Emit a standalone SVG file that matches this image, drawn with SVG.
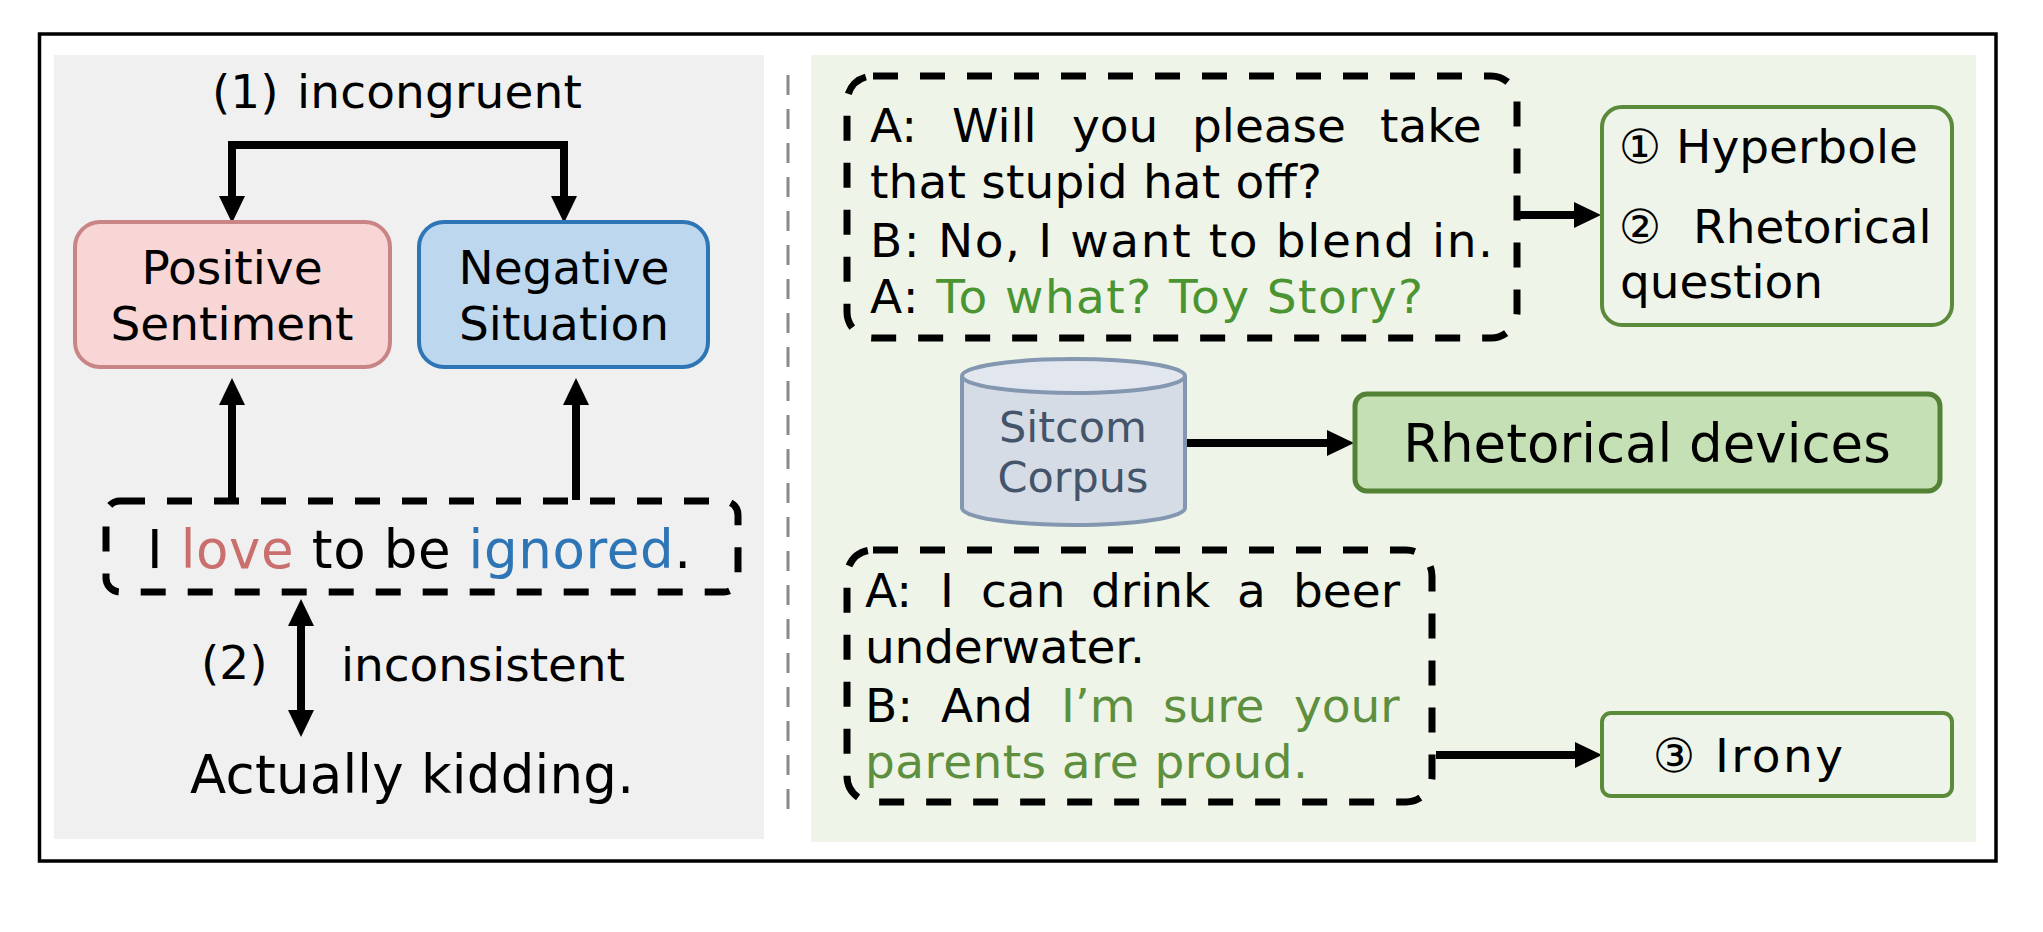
<svg xmlns="http://www.w3.org/2000/svg" width="2043" height="932" viewBox="0 0 2043 932">
<style>
text{font-family:"DejaVu Sans","Noto Sans CJK SC",sans-serif;fill:#000}
.lbl{font-size:47px}
.box{font-size:47px}
.big{font-size:53px}
.dlg{font-size:47px}
.dash{fill:none;stroke:#000;stroke-width:7;stroke-dasharray:25 22}
.conn{fill:none;stroke:#000;stroke-width:8}
.gbox{fill:#eef4ea;stroke:#5b8a3a;stroke-width:4}
.grn1{fill:#4b9432}
.grn2{fill:#5d8f3e}
</style>
<defs>
<marker id="ah" markerUnits="userSpaceOnUse" markerWidth="30" markerHeight="30" refX="0" refY="13" orient="auto-start-reverse" overflow="visible">
<path d="M0,0 L27,13 L0,26 z" fill="#000"/>
</marker>
</defs>
<rect x="0" y="0" width="2043" height="932" fill="#fff"/>
<rect id="frame" x="39.5" y="34" width="1956.5" height="827" fill="#fff" stroke="#000" stroke-width="3.5"/>
<rect id="left-panel" x="54" y="55" width="710" height="784" fill="#f0f0f0"/>
<rect id="right-panel" x="811" y="55" width="1165" height="787" fill="#eef4e8"/>
<line id="separator" x1="788" y1="75" x2="788" y2="813" stroke="#8a8a8a" stroke-width="3" stroke-dasharray="20 14"/>

<g id="connectors">
<path class="conn" d="M398,145 H232 V196" marker-end="url(#ah)"/>
<path class="conn" d="M398,145 H564 V196" marker-end="url(#ah)"/>
<path class="conn" d="M232,500 V405" marker-end="url(#ah)"/>
<path class="conn" d="M576,500 V405" marker-end="url(#ah)"/>
<path class="conn" d="M301,626 V710" marker-start="url(#ah)" marker-end="url(#ah)"/>
<path class="conn" stroke-width="9" d="M1519,215 H1574" marker-end="url(#ah)"/>
<path class="conn" stroke-width="9" d="M1185,443 H1327" marker-end="url(#ah)"/>
<path class="conn" stroke-width="9" d="M1436,755 H1575" marker-end="url(#ah)"/>
</g>

<g id="label-incongruent">
<text class="lbl" x="212" y="108">(1)</text>
<text class="lbl" x="297" y="108" textLength="285" lengthAdjust="spacing">incongruent</text>
</g>

<g id="node-positive">
<rect x="75" y="222" width="315" height="145" rx="25" fill="#f8d6d6" stroke="#c98585" stroke-width="4"/>
<text class="box" x="232" y="284" text-anchor="middle">Positive</text>
<text class="box" x="232" y="340" text-anchor="middle">Sentiment</text>
</g>

<g id="node-negative">
<rect x="419" y="222" width="289" height="145" rx="25" fill="#bdd7ee" stroke="#2e75b6" stroke-width="4"/>
<text class="box" x="564" y="284" text-anchor="middle">Negative</text>
<text class="box" x="564" y="340" text-anchor="middle">Situation</text>
</g>

<g id="node-sentence">
<rect class="dash" x="106" y="501" width="632" height="91" rx="14"/>
<text class="big" x="147" y="568" textLength="544" lengthAdjust="spacing">I <tspan fill="#c9706f">love</tspan> to be <tspan fill="#2e75b6">ignored</tspan>.</text>
</g>

<g id="label-inconsistent">
<text class="lbl" x="201" y="679">(2)</text>
<text class="lbl" x="341" y="681" textLength="284" lengthAdjust="spacing">inconsistent</text>
</g>

<g id="node-kidding">
<text class="big" x="190" y="793" textLength="444" lengthAdjust="spacing">Actually kidding.</text>
</g>

<g id="node-dialogue1">
<rect class="dash" x="847" y="76" width="670" height="262" rx="26"/>
<text class="dlg" y="142"><tspan x="870">A:</tspan><tspan x="952">Will</tspan><tspan x="1072">you</tspan><tspan x="1192">please</tspan><tspan x="1380">take</tspan></text>
<text class="dlg" x="870" y="198" textLength="452" lengthAdjust="spacing">that stupid hat off?</text>
<text class="dlg" x="870" y="257" textLength="623" lengthAdjust="spacing">B: No, I want to blend in.</text>
<text class="dlg" x="870" y="313" textLength="553" lengthAdjust="spacing">A: <tspan class="grn1">To what? Toy Story?</tspan></text>
</g>

<g id="node-hyperbole">
<rect class="gbox" x="1602" y="107" width="350" height="218" rx="20"/>
<text class="box" x="1619" y="163">① Hyperbole</text>
<text class="box" y="243"><tspan x="1619">②</tspan><tspan x="1693">Rhetorical</tspan></text>
<text class="box" x="1620" y="298">question</text>
</g>

<g id="node-corpus">
<path d="M962,376 V508 A111.5,17 0 0 0 1185,508 V376" fill="#d6dce5" stroke="#8497b0" stroke-width="4"/>
<ellipse cx="1073.5" cy="376" rx="111.5" ry="17" fill="#e2e7ef" stroke="#8497b0" stroke-width="4"/>
<text x="1073" y="442" font-size="43" text-anchor="middle" style="fill:#44546a">Sitcom</text>
<text x="1073" y="492" font-size="43" text-anchor="middle" style="fill:#44546a">Corpus</text>
</g>

<g id="node-devices">
<rect x="1355" y="394" width="585" height="97" rx="12" fill="#c5e0b4" stroke="#548235" stroke-width="5"/>
<text class="big" x="1647" y="462" text-anchor="middle">Rhetorical devices</text>
</g>

<g id="node-dialogue2">
<rect class="dash" x="847" y="550" width="585" height="252" rx="26"/>
<text class="dlg" y="607"><tspan x="865">A:</tspan><tspan x="940">I</tspan><tspan x="981">can</tspan><tspan x="1091">drink</tspan><tspan x="1237">a</tspan><tspan x="1293">beer</tspan></text>
<text class="dlg" x="865" y="663" textLength="280" lengthAdjust="spacing">underwater.</text>
<text class="dlg" y="722"><tspan x="865">B:</tspan><tspan x="941">And</tspan><tspan class="grn2" x="1061">I’m</tspan><tspan class="grn2" x="1163">sure</tspan><tspan class="grn2" x="1294">your</tspan></text>
<text class="dlg grn2" x="865" y="778" textLength="443" lengthAdjust="spacing">parents are proud.</text>
</g>

<g id="node-irony">
<rect class="gbox" x="1602" y="713" width="350" height="83" rx="9"/>
<text class="box" x="1653" y="772" textLength="190" lengthAdjust="spacing">③ Irony</text>
</g>
</svg>
